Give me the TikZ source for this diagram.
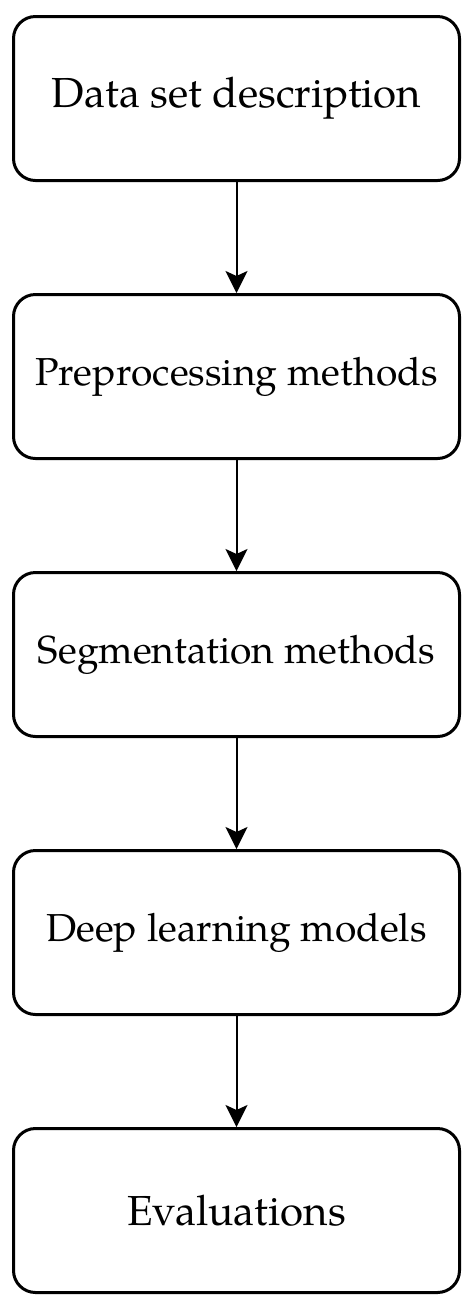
\documentclass[tikz,border=0pt]{standalone}
\usepackage{fontspec}
\setmainfont{TeX Gyre Pagella}
\usetikzlibrary{positioning,arrows.meta}

\tikzset{
	stagebox/.style={draw=black, line width=1.5pt, rounded corners=11pt,
		minimum width=223pt, minimum height=82pt, align=center,
		font=\fontsize{21}{24}\selectfont},
	longlabel/.style={font=\fontsize{19.5}{23}\selectfont},
	flowarrow/.style={draw=black, line width=1pt,
		-{Stealth[length=11pt,width=11pt,inset=2.5pt]}}
}

\begin{document}
\begin{tikzpicture}[x=0.5pt,y=0.5pt,yscale=-1,xscale=1, node distance=55.5pt]
		% Set diagram size: 473 x 1314
		\useasboundingbox (0,0) rectangle (473,1314);

		% The five stages, one below the other
		\node[stagebox] (dataset) at (236.5,98.5) {Data set description};
		\node[stagebox, longlabel, below=of dataset] (preproc) {Preprocessing methods};
		\node[stagebox, longlabel, below=of preproc] (segment) {Segmentation methods};
		\node[stagebox, longlabel, below=of segment] (deepmodel) {Deep learning models};
		\node[stagebox, below=of deepmodel] (evaluate) {Evaluations};

		% Arrows between the stages
		\draw[flowarrow] (dataset) -- (preproc);
		\draw[flowarrow] (preproc) -- (segment);
		\draw[flowarrow] (segment) -- (deepmodel);
		\draw[flowarrow] (deepmodel) -- (evaluate);
	\end{tikzpicture}
\end{document}
